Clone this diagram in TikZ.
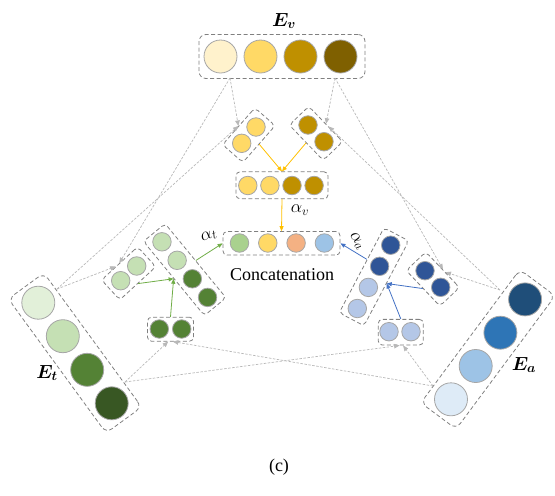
\documentclass[tikz,border=0pt]{standalone}
\usepackage{fix-cm}
\usepackage{fontspec}
\setmainfont{Liberation Serif}
\usepackage{bm}
\usetikzlibrary{arrows.meta,calc}
\definecolor{GoldA}{RGB}{255,242,204}
\definecolor{GoldB}{RGB}{255,217,102}
\definecolor{GoldC}{RGB}{191,144,0}
\definecolor{GoldD}{RGB}{127,96,0}
\definecolor{GoldLine}{RGB}{255,192,0}
\definecolor{GreenA}{RGB}{226,240,217}
\definecolor{GreenB}{RGB}{197,224,180}
\definecolor{GreenM}{RGB}{169,209,142}
\definecolor{GreenC}{RGB}{84,130,53}
\definecolor{GreenD}{RGB}{56,87,35}
\definecolor{GreenLine}{RGB}{112,173,71}
\definecolor{BlueA}{RGB}{222,235,247}
\definecolor{BlueB}{RGB}{157,195,230}
\definecolor{BlueL}{RGB}{180,199,231}
\definecolor{BlueC}{RGB}{46,117,182}
\definecolor{BlueK}{RGB}{47,85,151}
\definecolor{BlueD}{RGB}{31,78,121}
\definecolor{BlueLine}{RGB}{68,114,196}
\definecolor{OrangeM}{RGB}{244,177,131}
\definecolor{CircGray}{RGB}{166,166,166}
\definecolor{BoxGray}{RGB}{128,128,128}
\definecolor{LinkGray}{RGB}{184,184,184}

\begin{document}
\begin{tikzpicture}[x=1pt,y=-1pt,
  orb/.style={circle,draw=CircGray,line width=0.8pt,inner sep=0pt,minimum size=33pt},
  bead/.style={circle,draw=CircGray,line width=0.8pt,inner sep=0pt,minimum size=18.5pt},
  bigbox/.style={draw=BoxGray,dash pattern=on 4pt off 2.5pt,line width=0.8pt,rounded corners=7pt,
                 inner sep=0pt,minimum width=166pt,minimum height=44pt},
  smallbox/.style={draw=BoxGray,dash pattern=on 4pt off 2.5pt,line width=0.8pt,rounded corners=4pt,
                   inner sep=0pt,minimum width=49pt,minimum height=27pt},
  link/.style={draw=LinkGray,dash pattern=on 2.5pt off 1.5pt,line width=0.7pt,
               -{Triangle[length=5.5pt,width=4.5pt]}},
  flow/.style={line width=0.8pt,-{Triangle[length=5pt,width=4pt]}},
  lab/.style={font=\fontsize{18}{21}\selectfont},
  elab/.style={font=\fontsize{19}{22}\selectfont},
]
\useasboundingbox (0,0) rectangle (555,496);

\node[bigbox] (Ev) at (282,56.5) {};
\node[orb,fill=GoldA] (v1) at (220.5,56.5) {};
\node[orb,fill=GoldB] (v2) at (260.5,56.5) {};
\node[orb,fill=GoldC] (v3) at (300.5,56.5) {};
\node[orb,fill=GoldD] (v4) at (340.5,56.5) {};
\node[elab] (lv) at (284,21) {$\bm{E_v}$};

\node[bigbox,rotate=-53.9] (Et) at (75,353) {};
\node[orb,fill=GreenA] (t1) at (38.3,302.7) {};
\node[orb,fill=GreenB] (t2) at (62.8,336.2) {};
\node[orb,fill=GreenC] (t3) at (87.2,369.8) {};
\node[orb,fill=GreenD] (t4) at (111.7,403.3) {};
\node[elab] (lt) at (47,373) {$\bm{E_t}$};

\node[bigbox,rotate=53.4] (Ea) at (488,349.3) {};
\node[orb,fill=BlueD] (a1) at (525.1,299.4) {};
\node[orb,fill=BlueC] (a2) at (500.4,332.7) {};
\node[orb,fill=BlueB] (a3) at (475.7,366) {};
\node[orb,fill=BlueA] (a4) at (451,399.3) {};
\node[elab] (la) at (524,365) {$\bm{E_a}$};

\node[smallbox,rotate=48.7] (gl) at (248.85,135.15) {};
\node[bead,fill=GoldB] (gl1) at (256,127) {};
\node[bead,fill=GoldB] (gl2) at (241.7,143.3) {};
\node[smallbox,rotate=-46.2] (gr) at (316,133.35) {};
\node[bead,fill=GoldC] (gr1) at (308,125) {};
\node[bead,fill=GoldC] (gr2) at (324,141.7) {};

\node[smallbox,minimum width=92pt] (gm) at (282,185.3) {};
\node[bead,fill=GoldB] (gm1) at (247.8,185.5) {};
\node[bead,fill=GoldB] (gm2) at (269.9,185.5) {};
\node[bead,fill=GoldC] (gm3) at (292,185.5) {};
\node[bead,fill=GoldC] (gm4) at (314.1,185.5) {};

\node[smallbox,minimum width=117pt,minimum height=23.5pt] (cat) at (281.5,243.3) {};
\node[bead,fill=GreenM] (c1) at (239.5,243) {};
\node[bead,fill=GoldB] (c2) at (267.8,243) {};
\node[bead,fill=OrangeM] (c3) at (296.1,243) {};
\node[bead,fill=BlueB] (c4) at (324.4,243) {};
\node[lab] (cc) at (282,275) {Concatenation};

\node[smallbox,rotate=-50.6,minimum width=96pt,minimum height=28pt] (gb) at (184.75,269.6) {};
\node[bead,fill=GreenB] (gb1) at (161.95,241.8) {};
\node[bead,fill=GreenB] (gb2) at (177.15,260.3) {};
\node[bead,fill=GreenC] (gb3) at (192.35,278.8) {};
\node[bead,fill=GreenC] (gb4) at (207.55,297.4) {};
\node[smallbox,rotate=42.6] (gs) at (128.7,273.35) {};
\node[bead,fill=GreenB] (gs1) at (136.7,266) {};
\node[bead,fill=GreenB] (gs2) at (120.7,280.7) {};
\node[smallbox,minimum width=46pt,minimum height=24pt] (gt) at (170.5,329.2) {};
\node[bead,fill=GreenC] (gt1) at (159.3,329) {};
\node[bead,fill=GreenC] (gt2) at (181.7,329) {};

\node[smallbox,rotate=62.2,minimum width=96pt,minimum height=28pt] (bb) at (374,276.8) {};
\node[bead,fill=BlueK] (bb1) at (390.7,245.2) {};
\node[bead,fill=BlueK] (bb2) at (379.6,266.3) {};
\node[bead,fill=BlueL] (bb3) at (368.4,287.4) {};
\node[bead,fill=BlueL] (bb4) at (357.3,308.5) {};
\node[smallbox,rotate=-46.6] (bs) at (432.85,279) {};
\node[bead,fill=BlueK] (bs1) at (425,270.7) {};
\node[bead,fill=BlueK] (bs2) at (440.7,287.3) {};
\node[smallbox,minimum width=45pt,minimum height=25.7pt] (bt) at (400.8,332.2) {};
\node[bead,fill=BlueL] (bt1) at (389,331.7) {};
\node[bead,fill=BlueL] (bt2) at (411,331.7) {};

\coordinate (pv1) at (230,78);
\coordinate (pv2) at (335,78);
\coordinate (pt1) at (57,289);
\coordinate (pt2) at (125,382);
\coordinate (pa1) at (500,290);
\coordinate (pa2) at (433,386);
\draw[link] (pv1) -- (gl.north);
\draw[link] (pv1) -- (gs.north);
\draw[link] (pt1) -- (gl.north);
\draw[link] (pt1) -- ($(gs.north)!0.2!(gs.north west)$);
\draw[link] (pv2) -- (gr.north);
\draw[link] (pv2) -- (bs.north);
\draw[link] (pa1) -- ($(gr.north)!0.15!(gr.north east)$);
\draw[link] (pa1) -- ($(bs.north)!0.15!(bs.north east)$);
\draw[link] (pt2) -- ($(gt.south)!0.1!(gt.south west)$);
\draw[link] (pa2) -- ($(gt.south)!0.1!(gt.south east)$);
\draw[link] (pt2) -- ($(bt.south)!0.05!(bt.south west)$);
\draw[link] (pa2) -- ($(bt.south)!0.1!(bt.south east)$);

\draw[flow,GoldLine] (gl.south) -- (gm.north);
\draw[flow,GoldLine] (gr.south) -- (gm.north);
\draw[flow,GoldLine] (gm.south) -- (cat.north);
\node[lab] (alv) at (300,210) {$\alpha_v$};

\draw[flow,GreenLine] (gs.south) -- (gb.south);
\draw[flow,GreenLine] (gt.north) -- (gb.south);
\draw[flow,GreenLine] (gb.north) -- (cat.west);
\node[lab,rotate=20] (alt) at (209,236) {$\alpha_t$};

\draw[flow,BlueLine] (bs.south) -- (bb.south);
\draw[flow,BlueLine] (bt.north) -- (bb.south);
\draw[flow,BlueLine] ($(bb.north)!0.25!(bb.north east)$) -- (cat.east);
\node[lab,rotate=-55] (ala) at (357,241) {$\alpha_a$};

\node[lab] (cap) at (279,467) {(c)};
\end{tikzpicture}
\end{document}
